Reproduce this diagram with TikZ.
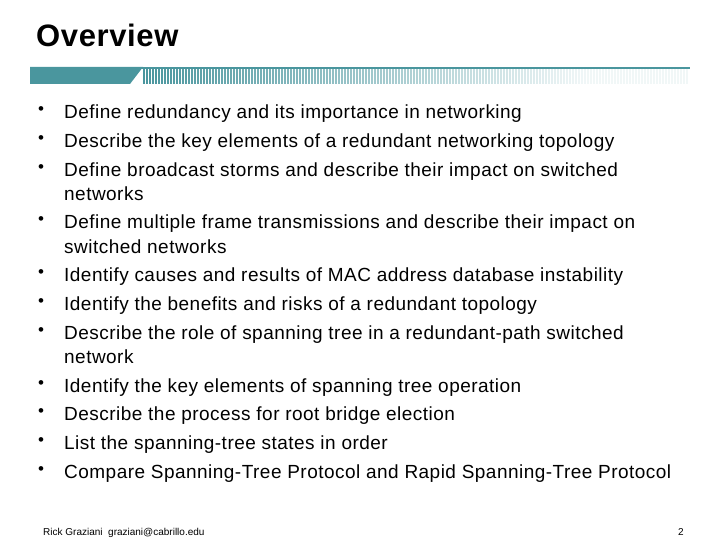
\documentclass[tikz,border=0pt]{standalone}
\usepackage{fontspec}
\setmainfont{Liberation Sans}
\definecolor{teal1}{RGB}{74,150,158}
\begin{document}
\begin{tikzpicture}[x=1pt,y=-1pt,
  item/.style={anchor=base west,font=\fontsize{19}{22}\selectfont\addfontfeature{LetterSpace=2.5},inner sep=0pt},
  bul/.style={anchor=base,font=\fontsize{17}{22}\selectfont,inner sep=0pt}]
\useasboundingbox (0,0) rectangle (720,540);
\node[anchor=base west,inner sep=0pt,font=\fontsize{31}{34}\selectfont\bfseries\addfontfeature{LetterSpace=2}] (title) at (36,47) {Overview};
% header bar
\fill[teal1] (30,67) rectangle (690,69);
\fill[teal1] (30,67) -- (143,67) -- (130,84) -- (30,84) -- cycle;
\foreach \i in {0,...,181}{
  \pgfmathsetmacro{\xx}{143+3*\i}
  \pgfmathsetmacro{\op}{max(0.08,1-\i/160)}
  \fill[teal1,opacity=\op] (\xx,69) rectangle ({\xx+1.6},84);
}
\foreach \y/\t [count=\k] in {
112/Define redundancy and its importance in networking,
141/Describe the key elements of a redundant networking topology,
170/Define broadcast storms and describe their impact on switched,
222/Define multiple frame transmissions and describe their impact on,
274/Identify causes and results of MAC address database instability,
303/Identify the benefits and risks of a redundant topology,
332/Describe the role of spanning tree in a redundant-path switched,
385/Identify the key elements of spanning tree operation,
413/Describe the process for root bridge election,
442/List the spanning-tree states in order,
471/Compare Spanning-Tree Protocol and Rapid Spanning-Tree Protocol}{
  \node[bul] (b\k) at (41,\y+3) {\textbullet};
  \node[item] (t\k) at (64,\y+7) {\t};
}
\node[item] (c3) at (64,201) {networks};
\node[item] (c4) at (64,253) {switched networks};
\node[item] (c7) at (64,363) {network};
\node[anchor=base west,inner sep=0pt,font=\fontsize{10}{12}\selectfont] (foot) at (43,535) {Rick Graziani\ \ graziani@cabrillo.edu};
\node[anchor=base east,inner sep=0pt,font=\fontsize{10}{12}\selectfont] (pg) at (684,535) {2};
\end{tikzpicture}
\end{document}
